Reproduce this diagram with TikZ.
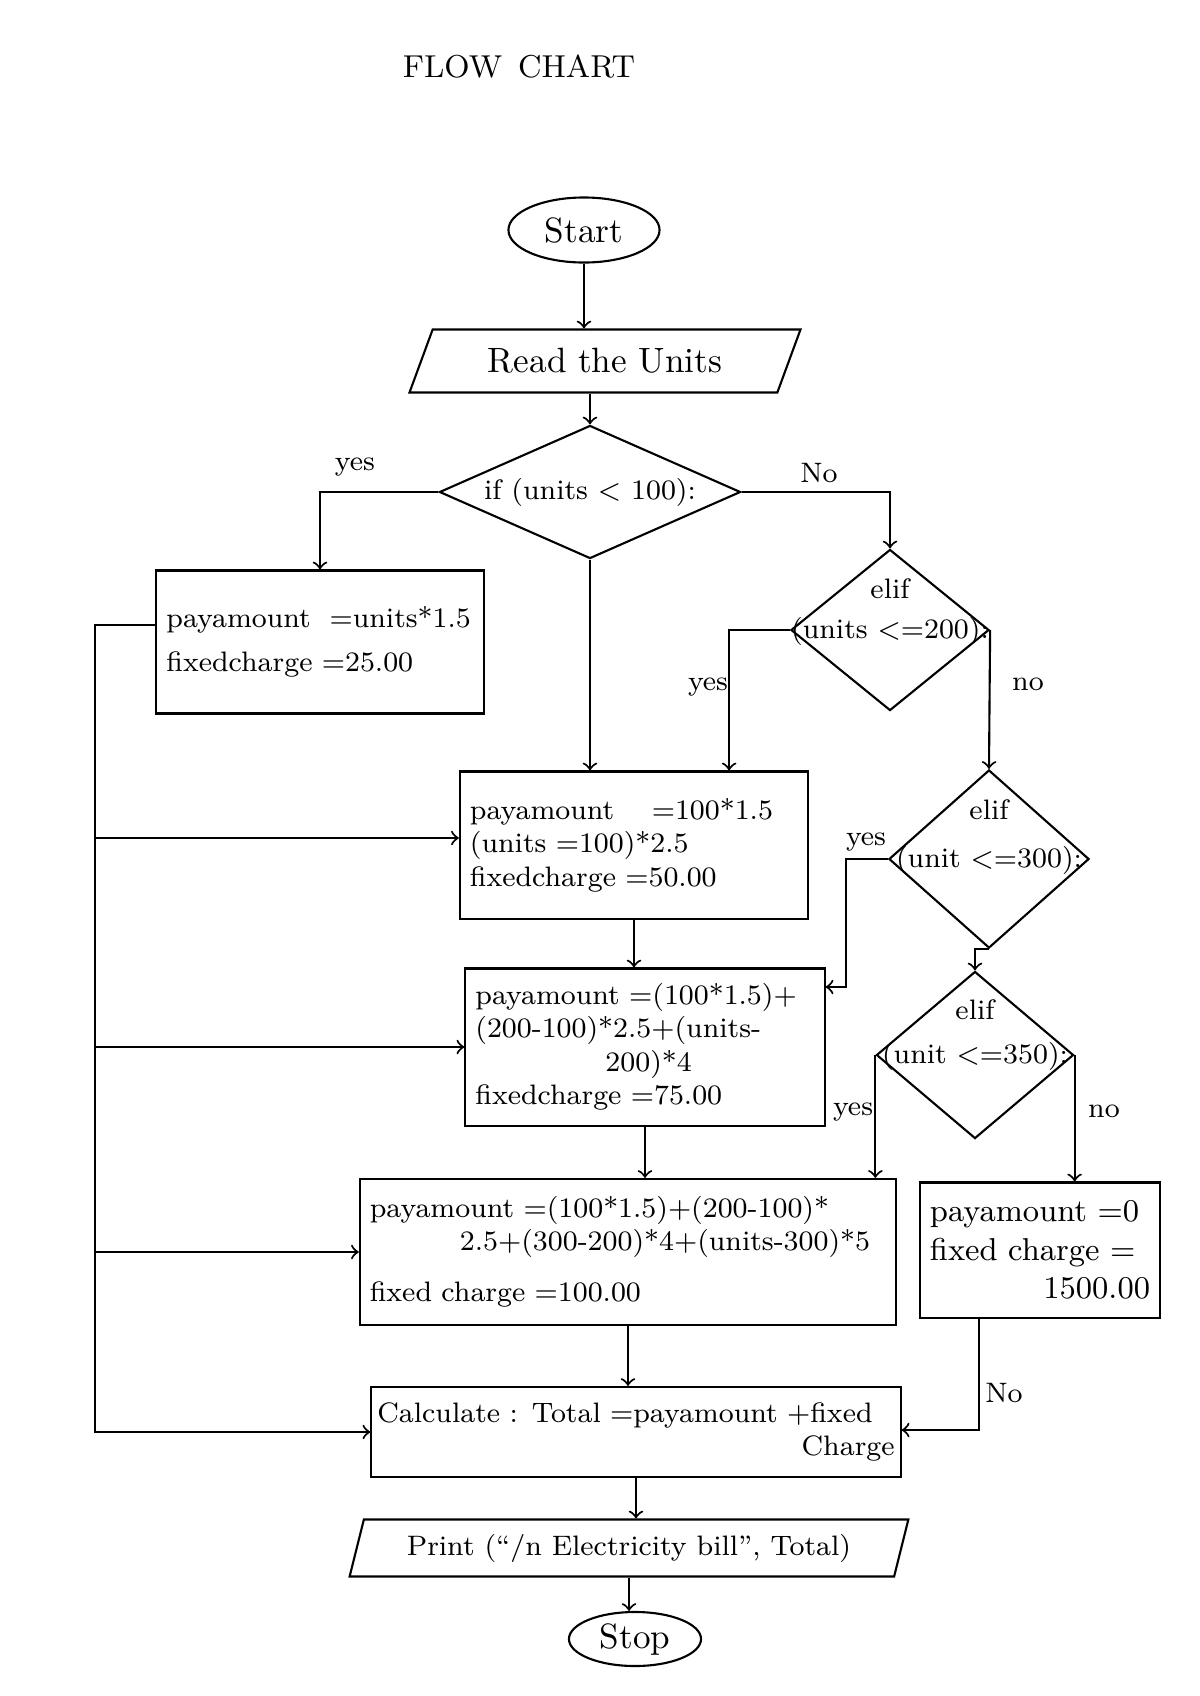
\documentclass[tikz,border=0pt]{standalone}
\usepackage{amsmath, amssymb}
\usepackage{tikz}
\usetikzlibrary{shapes.geometric}

\begin{document}
\begin{tikzpicture}[x=0.01cm, y=-0.01cm, semithick,
    term/.style={ellipse, draw, inner sep=0pt},
    io/.style={trapezium, draw, trapezium stretches=true, inner sep=0pt},
    decision/.style={diamond, draw, inner sep=0pt},
    box/.style={rectangle, draw, align=left, font=\footnotesize, inner xsep=0.1cm},
    dtext/.style={font=\footnotesize, align=center},
    lbl/.style={font=\footnotesize}]
        \useasboundingbox[fill=white] (0,0) rectangle (1200,1696);

        % --- TITLE ---
        \node (title) at (519,67) [font=\small] {FLOW\enspace CHART};

        % --- INPUT ---
        \node (start) at (584,230) [term, minimum width=1.51cm, minimum height=0.65cm] {Start};
        \node (read) at (605,361) [io, trapezium left angle=58, trapezium right angle=122, minimum width=3.92cm, minimum height=0.63cm] {Read the Units};

        % --- CONDITIONS ---
        \node (d1) at (590,492) [decision, minimum width=3.01cm, minimum height=1.33cm,
            label={[dtext]center:{if (units < 100):}}] {};
        \node (d2) at (890,630) [decision, minimum width=1.98cm, minimum height=1.61cm,
            label={[dtext, yshift=0.18cm]center:{elif\\[2pt](units <=200):}}] {};
        \node (d3) at (989,859) [decision, minimum width=2.00cm, minimum height=1.78cm,
            label={[dtext, yshift=0.22cm]center:{elif\\[4pt](unit <=300):}}] {};
        \node (d4) at (975,1055) [decision, minimum width=1.97cm, minimum height=1.67cm,
            label={[dtext, yshift=0.2cm]center:{elif\\[3pt](unit <=350):}}] {};

        % --- CHARGES ---
        \node (box1) at (320,642) [box, text width=3.07cm, minimum height=1.43cm]
            {payamount \ =units*1.5\\[3pt]fixedcharge =25.00};
        \node (box2) at (634,845) [box, text width=3.28cm, minimum height=1.47cm]
            {payamount \quad =100*1.5\\(units =100)*2.5\\fixedcharge =50.00};
        \node (box3) at (645,1047) [box, text width=3.39cm, minimum height=1.57cm]
            {payamount =(100*1.5)+\\(200-100)*2.5+(units-\\\hspace*{1.3cm}200)*4\\fixedcharge =75.00};
        \node (box4) at (628,1252) [box, text width=5.16cm, minimum height=1.46cm]
            {payamount =(100*1.5)+(200-100)*\\\hspace*{0.9cm}2.5+(300-200)*4+(units-300)*5\\[5pt]fixed charge =100.00};
        \node (box5) at (1040,1250) [box, font=\small, text width=2.20cm, minimum height=1.35cm]
            {payamount =0\\fixed charge =\\\hspace*{\fill}1500.00};

        % --- OUTPUT ---
        \node (calc) at (636,1432) [box, inner xsep=0.06cm, text width=5.17cm, minimum height=0.90cm]
            {Calculate : Total =payamount +fixed\\\hspace*{\fill}Charge\hspace*{0.3cm}};
        \node (print) at (629,1548) [io, trapezium left angle=67, trapezium right angle=113, minimum width=5.59cm, minimum height=0.57cm, font=\footnotesize]
            {Print (``/n Electricity bill'', Total)};
        \node (stop) at (635,1639) [term, minimum width=1.32cm, minimum height=0.54cm] {Stop};

        % --- FLOW ---
        \draw[->] (start.south) -- (start.south |- read.north);
        \draw[->] (read.south -| d1.north) -- (d1.north);
        \draw[->] (d1.west) -| (box1.north);
        \draw[->] (d1.east) -| (d2.north);
        \draw[->] (d1.south) -- (d1.south |- box2.north);
        \draw[->] (d2.west) -| ([xshift=-0.8cm]box2.north east);
        \draw[->] (d2.east) -- (d3.north);
        \coordinate (c3) at (846,987);
        \draw[->] (d3.west) -| (c3) -- (c3 -| box3.east);
        \draw[->] (d3.south) -| (d4.north);
        \draw[->] (d4.west) -- (d4.west |- box4.north);
        \draw[->] (d4.east) -- (d4.east |- box5.north);
        \draw[->] (box2.south) -- (box2.south |- box3.north);
        \draw[->] (box3.south) -- (box3.south |- box4.north);
        \draw[->] (box4.south) -- (box4.south |- calc.north);
        \coordinate (c5) at (979,1430);
        \draw[->] (box5.south -| c5) -- (c5) -- (c5 -| calc.east);
        \draw[->] (calc.south) -- (calc.south |- print.north);
        \draw[->] (print.south) -- (print.south |- stop.north);

        % left return line
        \coordinate (bus1) at (95,625);
        \coordinate (bus2) at (95,838);
        \draw[->] (bus1 -| box1.west) -- (bus1) |- (calc.west);
        \draw[->] (bus2) -- (bus2 -| box2.west);
        \draw[->] (bus1 |- box3.west) -- (box3.west);
        \draw[->] (bus1 |- box4.west) -- (box4.west);

        % --- LABELS ---
        \node[lbl] (lyes1) at (355,467) {yes};
        \node[lbl] (lno1) at (819,473) {No};
        \node[lbl] (lyes2) at (708,687) {yes};
        \node[lbl] (lno2) at (1028,684) {no};
        \node[lbl] (lyes3) at (866,842) {yes};
        \node[lbl] (lyes4) at (853,1112) {yes};
        \node[lbl] (lno4) at (1104,1111) {no};
        \node[lbl] (lno5) at (1004,1393) {No};
    \end{tikzpicture}
\end{document}
